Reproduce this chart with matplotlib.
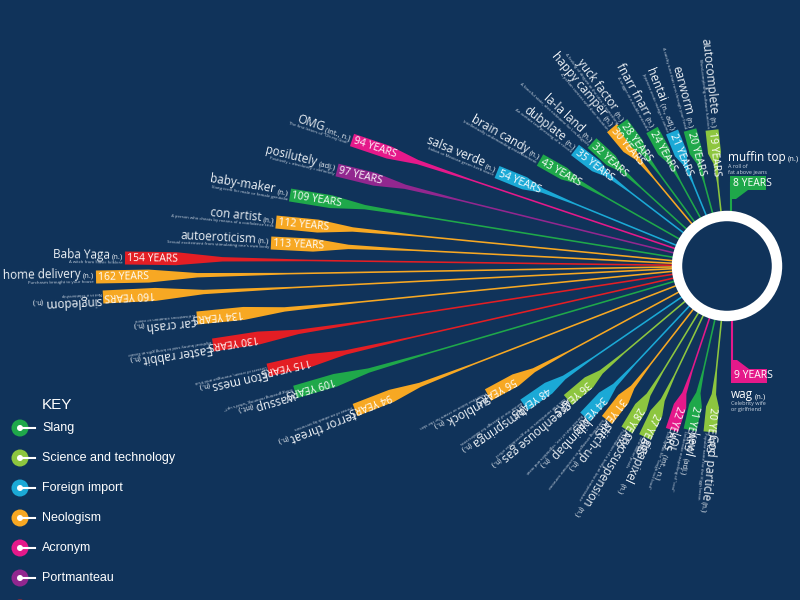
import numpy as np
import matplotlib
matplotlib.use("Agg")
import matplotlib.pyplot as plt
from matplotlib.patches import Polygon, Circle

BG = "#10335a"
COLORS = {
    "slang": "#1fa84a",
    "scitech": "#8dc63f",
    "foreign": "#1ba9d6",
    "neologism": "#f7a823",
    "acronym": "#e5198a",
    "portmanteau": "#92278f",
    "eponym": "#e31e24",
}

# ring centre in picture pixels
CX, CY = 727, 266

words = ["OMG", "posilutely", "baby-maker", "con artist", "autoeroticism",
         "Baba Yaga", "home delivery", "singledom", "car crash", "Easter rabbit",
         "Eton mess", "wassup", "terror threat",
         "sunblock", "tumspringa", "greenhouse gas", "bibimbap", "stitch-up",
         "cryosuspension", "gigapixel", "LOL", "kewl", "God particle",
         "salsa verde", "brain candy", "dubplate", "la-la land", "happy camper",
         "yuck factor", "fnarr fnarr", "hentai", "earworm", "autocomplete"]
pos_tags = ["(int., n.)", "(adj.)", "(n.)", "(n.)", "(n.)",
            "(n.)", "(n.)", "(n.)", "(n.)", "(n.)",
            "(n.)", "(int.)", "(n.)",
            "(n.)", "(n.)", "(n.)", "(n.)", "(n.)",
            "(n.)", "(n.)", "(int., n.)", "(adj.)", "(n.)",
            "(n.)", "(n.)", "(n.)", "(n.)", "(n.)",
            "(n.)", "(n.)", "(n., adj.)", "(n.)", "(n.)"]
years = [94, 97, 109, 112, 113, 154, 162, 160, 134, 130, 115, 109, 94,
         56, 48, 36, 34, 31, 28, 27, 22, 21, 20,
         54, 43, 35, 32, 30, 28, 24, 21, 20, 19]
cats = ["acronym", "portmanteau", "slang", "neologism", "neologism",
        "eponym", "neologism", "neologism", "neologism", "eponym",
        "eponym", "slang", "neologism",
        "neologism", "foreign", "scitech", "foreign", "neologism",
        "scitech", "scitech", "acronym", "slang", "scitech",
        "foreign", "slang", "foreign", "slang", "neologism",
        "slang", "slang", "foreign", "slang", "scitech"]
defs = ["The first letters of \"Oh my God!\"",
        "Positively + absolutely = definitely",
        "Slang term for male or female genitalia",
        "A person who cheats by means of a confidence trick",
        "Sexual excitement from stimulating one's own body",
        "A witch from Slavic folklore",
        "Purchases brought to your house",
        "Not in a relationship",
        "A disastrous situation or event",
        "Mythical bunny said to bring gifts at Easter",
        "Dessert of cream, meringue and fruit",
        "Slang greeting meaning \"what's up?\"",
        "Threat of an attack by terrorists",
        "Protective lotion or cream for the skin",
        "Amish rite of passage for adolescents",
        "Gas that contributes to the greenhouse effect",
        "Korean dish of rice, vegetables and meat",
        "Something arranged to incriminate someone",
        "Preservation of a body at low temperature",
        "One billion pixels",
        "Text-speak for \"laugh out loud\"",
        "Deliberate misspelling of \"cool\"",
        "Popular name for the Higgs boson",
        "Italian or Mexican green herb sauce",
        "Intellectually undemanding entertainment",
        "An acetate test pressing of a record",
        "A fanciful state; also nickname for Los Angeles",
        "A person content with their situation",
        "A feeling of disgust at the idea of something",
        "A snigger at a double entendre",
        "Japanese erotic manga or anime",
        "A catchy tune that runs through your head",
        "Word-completing software function"]
# outer end of each year box, picture pixels
start_x = [352, 337, 290, 276, 271, 125, 96, 103, 197, 213, 268, 295, 355,
           488, 524, 568, 585, 607, 627, 645, 672, 690, 710,
           497, 540, 575, 592, 612, 622, 652, 672, 690, 712]
start_y = [140, 170, 195, 222, 243, 258, 277, 297, 318, 345, 370, 392, 410,
           395, 405, 400, 417, 420, 430, 437, 430, 430, 432,
           172, 160, 150, 143, 128, 123, 130, 132, 130, 130]

# two short flag labels above and below the ring
flag_words = ["muffin top", "wag"]
flag_defs = ["A roll of\nfat above jeans", "Celebrity wife\nor girlfriend"]
flag_years = [8, 9]
flag_cats = ["slang", "acronym"]

key_labels = ["Slang", "Science and technology", "Foreign import", "Neologism",
              "Acronym", "Portmanteau", ""]
key_cats = ["slang", "scitech", "foreign", "neologism", "acronym", "portmanteau", "eponym"]

fig = plt.figure(figsize=(8, 6), dpi=100)
fig.patch.set_facecolor(BG)
ax = fig.add_axes([0, 0, 1, 1])
ax.set_facecolor(BG)
ax.set_xlim(0, 800)
ax.set_ylim(600, 0)
ax.axis("off")
renderer = fig.canvas.get_renderer()

WF = "Open Sans"
WSIZE, TSIZE = 8.5, 5.5
R_RING = 50


def text_width(s, size):
    # width in pixels (= data units here) of an unrotated text
    t = ax.text(0, 0, s, fontsize=size, family=WF)
    wpx = t.get_window_extent(renderer).width
    t.remove()
    return wpx


for i, w in enumerate(words):
    sx, sy = start_x[i], start_y[i]
    col = COLORS[cats[i]]
    d = np.hypot(CX - sx, CY - sy)
    u = np.array([CX - sx, CY - sy]) / d
    n = np.array([-u[1], u[0]])
    S = np.array([sx, sy])
    lb = 0.06 * d + 15
    lt = 0.22 * d
    h = 6.5
    B = S + u * lb
    M = S + u * (lb + lt * 0.35)
    P = S + u * (lb + lt)
    E = np.array([CX, CY]) - u * (R_RING + 4)
    pts = [S + n * h, B + n * h, M + n * 2.2, P + n * 0.8, E + n * 0.8,
           E - n * 0.8, P - n * 0.8, M - n * 2.2, B - n * h, S - n * h]
    poly = Polygon(pts, closed=True, facecolor=col, edgecolor="none", zorder=2)
    ax.add_patch(poly)

    inward = np.degrees(np.arctan2(-u[1], u[0]))
    flip = sy > CY + 20
    if flip:
        rot = inward + 180
        anchor, ha = S - u * 1, "left"
        tanchor = B
    else:
        rot = inward
        anchor, ha = S - u * 2, "right"
        tanchor = S + u * 2
    a = np.radians(rot)
    below = np.array([np.sin(a), np.cos(a)])
    fwd = np.array([np.cos(a), -np.sin(a)])

    t = ax.text(tanchor[0] + below[0] * 0.5, tanchor[1] + below[1] * 0.5,
                f"{years[i]} YEARS", color="white", fontsize=7.5, family=WF,
                rotation=rot, rotation_mode="anchor",
                ha="left", va="center", zorder=3)
    t.set_clip_path(poly)

    base = anchor + below * 0.5
    if ha == "right":
        tag_at = base
        word_at = base - fwd * (text_width(pos_tags[i], TSIZE) + 2)
    else:
        word_at = base
        tag_at = base + fwd * (text_width(w, WSIZE) + 2)
    ax.text(word_at[0], word_at[1], w, color="#eef2f6", fontsize=WSIZE, family=WF,
            rotation=rot, rotation_mode="anchor", ha=ha, va="baseline", zorder=3)
    ax.text(tag_at[0], tag_at[1], pos_tags[i], color="#eef2f6", fontsize=TSIZE,
            family=WF, rotation=rot, rotation_mode="anchor", ha=ha,
            va="baseline", zorder=3)
    ax.text(anchor[0] + below[0] * 2.5, anchor[1] + below[1] * 2.5,
            defs[i], color="#c8d3e0", fontsize=3.1, family=WF,
            rotation=rot, rotation_mode="anchor", ha=ha, va="top", zorder=3)

# flag labels
for j, w in enumerate(flag_words):
    col = COLORS[flag_cats[j]]
    if j == 0:
        fx, fy, top = 730, 183, True
    else:
        fx, fy, top = 731, 376, False
    ring_y = CY - R_RING - 4 if top else CY + R_RING + 4
    ax.plot([fx + 1, fx + 1], [fy, ring_y], color=col, lw=1.5, zorder=2)
    ax.add_patch(Polygon([[fx, fy - 7], [fx + 36, fy - 7], [fx + 36, fy + 7],
                          [fx, fy + 7]], facecolor=col, edgecolor="none", zorder=2))
    s = 1 if top else -1
    ax.add_patch(Polygon([[fx, fy], [fx + 18, fy + s * 7], [fx + 6, fy + s * 16], [fx, fy + s * 16]],
                         facecolor=col, edgecolor="none", zorder=2))
    ax.text(fx + 3, fy, f"{flag_years[j]} YEARS", color="white", fontsize=7.5,
            family=WF, ha="left", va="center", zorder=3)
    wx, wy = (728, 161) if top else (731, 398)
    ax.text(wx, wy, w, color="white", fontsize=WSIZE, family=WF,
            ha="left", va="baseline", zorder=3)
    ax.text(wx + text_width(w, WSIZE) + 2, wy, "(n.)", color="white",
            fontsize=TSIZE, family=WF, ha="left", va="baseline", zorder=3)
    ax.text(wx, wy + 3, flag_defs[j], color="#c8d3e0", fontsize=4, family=WF,
            ha="left", va="top", zorder=3)

# ring
ax.add_patch(Circle((CX, CY), R_RING, facecolor=BG, edgecolor="white",
                    linewidth=7.5, zorder=4))

# key
ax.text(42, 405, "KEY", color="white", fontsize=11, family="Liberation Sans",
        va="center", ha="left")
for k, lab in enumerate(key_labels):
    ky = 428 + k * 30
    ax.add_patch(Circle((20, ky), 8.5, facecolor=COLORS[key_cats[k]],
                        edgecolor="none", zorder=2))
    ax.add_patch(Circle((20, ky), 3, facecolor="white", edgecolor="none", zorder=3))
    ax.plot([20, 35], [ky, ky], color="white", lw=1.5, zorder=3)
    ax.text(42, ky, lab, color="white", fontsize=9, family="Liberation Sans",
            va="center", ha="left")

fig.savefig("out.png", dpi=100, facecolor=BG)
